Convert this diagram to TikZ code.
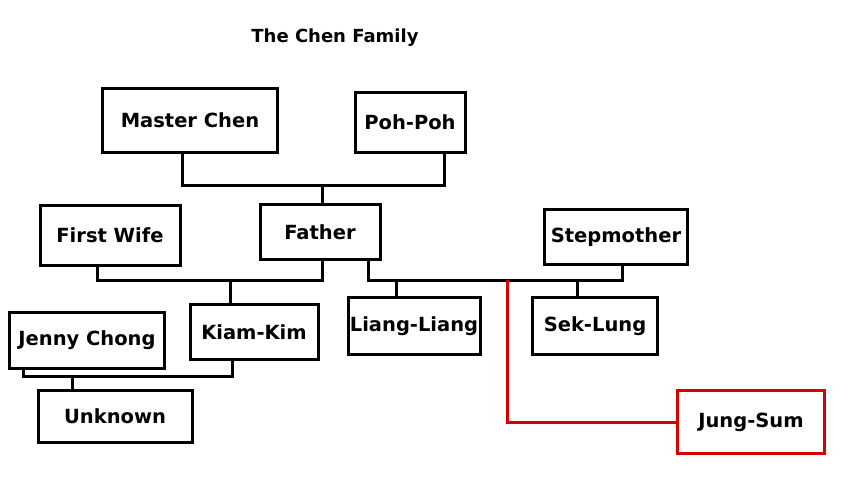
\documentclass[tikz,border=0pt]{standalone}
\usepackage{fontspec}
\setmainfont{DejaVu Sans}
\usetikzlibrary{positioning}

\begin{document}
\begin{tikzpicture}[x=1pt,y=-1pt]
        \tikzset{person/.style={draw, rectangle, line width=3pt, align=center, inner sep=0pt, font=\fontsize{19.5}{23}\selectfont\bfseries},
        link/.style={draw, line width=3pt},
        redlink/.style={draw, line width=3pt, red!85!black}
        }
        \useasboundingbox (0,0) rectangle (868,479);
        \node[font=\fontsize{18}{22}\selectfont\bfseries] (title) at (335,38) {The Chen Family};
        \node[person, minimum width=175pt, minimum height=64pt] (master) at (190,120) {Master Chen};
        \node[person, minimum width=110pt, minimum height=60pt] (pohpoh) at (410,122) {Poh-Poh};
        \node[person, minimum width=140pt, minimum height=60pt] (firstwife) at (110,235) {First Wife};
        \node[person, minimum width=120pt, minimum height=55pt] (father) at (320,232) {Father};
        \node[person, minimum width=143pt, minimum height=55pt] (stepmother) at (616,237) {Stepmother};
        \node[person, minimum width=155pt, minimum height=56pt] (jenny) at (87,340) {Jenny Chong};
        \node[person, minimum width=128pt, minimum height=55pt] (kiamkim) at (254,332) {Kiam-Kim};
        \node[person, minimum width=132pt, minimum height=57pt] (liang) at (414,326) {Liang-Liang};
        \node[person, minimum width=125pt, minimum height=57pt] (seklung) at (595,326) {Sek-Lung};
        \node[person, minimum width=154pt, minimum height=52pt] (unknown) at (115,416) {Unknown};
        \node[person, draw=red!85!black, minimum width=147pt, minimum height=63pt] (jungsum) at (751,422) {Jung-Sum};
        \coordinate (top) at (322,185);
        \coordinate (left) at (230,280);
        \coordinate (right) at (622,280);
        \coordinate (branch) at (507,280);
        \coordinate (low) at (72,376);

%% paths
        \path[link] ([xshift=-8pt]master.south) |- (top) -| ([xshift=-22pt]pohpoh.south east)
                    (top) -- (father.north -| top)
                    ([xshift=-13pt]firstwife.south) |- (left) -| ([xshift=2pt]father.south)
                    (left) -- (kiamkim.north -| left)
                    ([xshift=-13pt]father.south east) |- (right) -- ([xshift=6pt]stepmother.south)
                    (liang.north -| 396,0) -- (396,280)
                    (seklung.north -| 577,0) -- (577,280)
                    ([xshift=15pt]jenny.south west) |- (low) -| ([xshift=-22pt]kiamkim.south)
                    (low) -- (unknown.north -| low);
        \path[redlink] (branch) |- (jungsum.west);
\end{tikzpicture}
\end{document}
